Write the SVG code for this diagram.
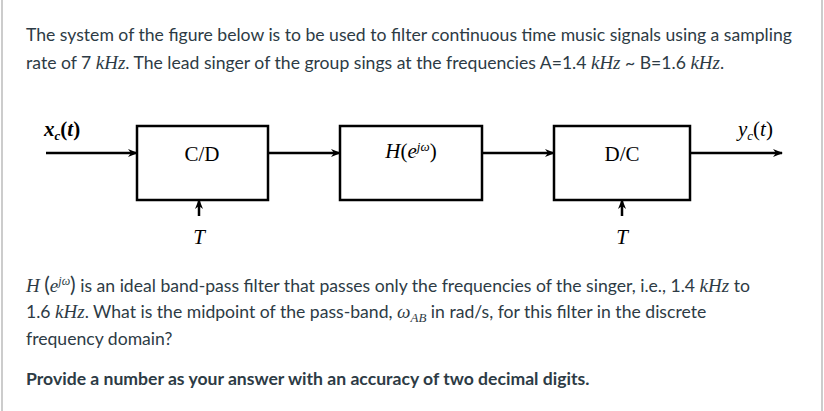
<svg xmlns="http://www.w3.org/2000/svg" width="824" height="411" viewBox="0 0 824 411">
<style>
.t{font-family:Lato,"Open Sans",sans-serif;font-size:17.6px;fill:#2d3b45}
.m{font-family:"Liberation Serif",serif;font-style:italic;font-size:19px}
.s{font-family:"Liberation Serif",serif;font-style:italic;font-size:12px}
.d{font-family:"Liberation Serif",serif;font-size:21px;fill:#000}
.b{fill:#fff;stroke:#000;stroke-width:2.5}
.c{stroke:#000;stroke-width:2.5;fill:none;marker-end:url(#a)}
</style>
<defs><marker id="a" markerWidth="10" markerHeight="8" refX="9" refY="4" orient="auto" markerUnits="userSpaceOnUse"><path d="M0,0L10,4L0,8L3,4z" fill="#000"/></marker></defs>
<rect width="824" height="411" fill="#fff"/>
<line x1="2" y1="0" x2="2" y2="411" stroke="#bbb" stroke-width="1.5"/>
<line x1="822" y1="0" x2="822" y2="411" stroke="#bbb" stroke-width="1.5"/>
<text class="t" x="26" y="41">The system of the figure below is to be used to filter continuous time music signals using a sampling</text>
<text class="t" x="26" y="69">rate of 7 <tspan class="m">kHz</tspan>. The lead singer of the group sings at the frequencies A=1.4  <tspan class="m">kHz</tspan> ~ B=1.6  <tspan class="m">kHz</tspan>.</text>
<g id="connectors">
<line class="c" x1="46" y1="153" x2="137" y2="153"/>
<line class="c" x1="268" y1="153" x2="340" y2="153"/>
<line class="c" x1="482" y1="153" x2="554" y2="153"/>
<line class="c" x1="690" y1="153" x2="782" y2="153"/>
<line class="c" x1="199" y1="216" x2="199" y2="200"/>
<line class="c" x1="622" y1="216" x2="622" y2="200"/>
</g>
<g id="cd"><rect class="b" x="137" y="126" width="131" height="74"/><text class="d" x="202" y="161" text-anchor="middle" font-family="Liberation Sans" font-size="19">C/D</text></g>
<g id="h"><rect class="b" x="340" y="126" width="142" height="74"/><text class="d" x="411" y="158" text-anchor="middle"><tspan font-style="italic">H</tspan>(<tspan font-style="italic">e</tspan><tspan font-style="italic" font-size="13" dy="-7">jω</tspan><tspan dy="7">)</tspan></text></g>
<g id="dc"><rect class="b" x="554" y="126" width="136" height="74"/><text class="d" x="622" y="161" text-anchor="middle" font-family="Liberation Sans" font-size="19">D/C</text></g>
<g id="labels">
<text class="d" x="44" y="136" font-style="italic" font-weight="bold">x<tspan font-size="13" dy="4">c</tspan><tspan dy="-4" font-style="normal">(</tspan>t<tspan font-style="normal">)</tspan></text>
<text class="d" x="738" y="136" font-style="italic">y<tspan font-size="13" dy="4">c</tspan><tspan dy="-4" font-style="normal">(</tspan>t<tspan font-style="normal">)</tspan></text>
<text class="d" x="199" y="244" text-anchor="middle" font-style="italic">T</text>
<text class="d" x="622" y="244" text-anchor="middle" font-style="italic">T</text>
</g>
<text class="t" x="26" y="292"><tspan class="m">H</tspan> <tspan style="font-size:21px">(</tspan><tspan class="m">e</tspan><tspan class="s" dy="-7">jω</tspan><tspan dy="7" style="font-size:21px">)</tspan> is an ideal band-pass filter that passes only the frequencies of the singer, i.e.,  1.4  <tspan class="m">kHz</tspan> to</text>
<text class="t" x="26" y="318">1.6 <tspan class="m">kHz</tspan>. What is the midpoint of the pass-band, <tspan class="m">ω</tspan><tspan class="s" style="font-size:13px" dy="4">AB</tspan><tspan dy="-4"> in rad/s, for this filter in the discrete</tspan></text>
<text class="t" x="26" y="345">frequency domain?</text>
<text class="t" x="26" y="385" font-weight="bold">Provide a number as your answer with an accuracy of two decimal digits.</text>
</svg>
